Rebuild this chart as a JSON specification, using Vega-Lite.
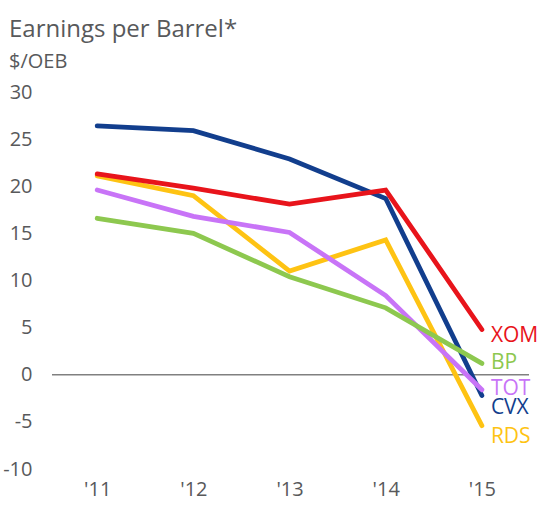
{
  "$schema": "https://vega.github.io/schema/vega-lite/v6.json",
  "width": 477,
  "height": 377,
  "autosize": {"type": "none"},
  "padding": {"left": 52, "top": 92, "right": 31, "bottom": 40},
  "background": "white",
  "config": {"view": {"stroke": null}, "font": "Open Sans"},
  "title": {
    "text": "Earnings per Barrel*",
    "subtitle": "$/OEB",
    "anchor": "start",
    "frame": "group",
    "dx": -43,
    "offset": 10,
    "fontSize": 24,
    "fontWeight": "normal",
    "color": "#58595b",
    "subtitleFontSize": 20,
    "subtitleColor": "#58595b",
    "subtitlePadding": 10
  },
  "data": {
    "values": [
      {"company": "CVX", "year": 2011, "value": 26.4},
      {"company": "CVX", "year": 2012, "value": 25.9},
      {"company": "CVX", "year": 2013, "value": 22.9},
      {"company": "CVX", "year": 2014, "value": 18.7},
      {"company": "CVX", "year": 2015, "value": -2.2},
      {"company": "RDS", "year": 2011, "value": 21.1},
      {"company": "RDS", "year": 2012, "value": 19.0},
      {"company": "RDS", "year": 2013, "value": 11.0},
      {"company": "RDS", "year": 2014, "value": 14.3},
      {"company": "RDS", "year": 2015, "value": -5.4},
      {"company": "TOT", "year": 2011, "value": 19.6},
      {"company": "TOT", "year": 2012, "value": 16.8},
      {"company": "TOT", "year": 2013, "value": 15.1},
      {"company": "TOT", "year": 2014, "value": 8.4},
      {"company": "TOT", "year": 2015, "value": -1.6},
      {"company": "BP", "year": 2011, "value": 16.6},
      {"company": "BP", "year": 2012, "value": 15.0},
      {"company": "BP", "year": 2013, "value": 10.4},
      {"company": "BP", "year": 2014, "value": 7.1},
      {"company": "BP", "year": 2015, "value": 1.2},
      {"company": "XOM", "year": 2011, "value": 21.3},
      {"company": "XOM", "year": 2012, "value": 19.8},
      {"company": "XOM", "year": 2013, "value": 18.1},
      {"company": "XOM", "year": 2014, "value": 19.6},
      {"company": "XOM", "year": 2015, "value": 4.8}
    ]
  },
  "encoding": {
    "x": {
      "field": "year",
      "type": "quantitative",
      "scale": {"domain": [2010.53, 2015.49], "nice": false, "zero": false},
      "axis": {
        "values": [2011, 2012, 2013, 2014, 2015],
        "labelExpr": "\"'\" + substring(toString(datum.value), 2)",
        "domain": false,
        "ticks": false,
        "grid": false,
        "labelFontSize": 20,
        "labelColor": "#58595b",
        "labelPadding": 10,
        "title": null
      }
    },
    "y": {
      "field": "value",
      "type": "quantitative",
      "scale": {"domain": [-10, 30], "nice": false},
      "axis": {
        "values": [-10, -5, 0, 5, 10, 15, 20, 25, 30],
        "labelExpr": "datum.value < 0 ? '-' + abs(datum.value) : '' + datum.value",
        "domain": false,
        "ticks": false,
        "grid": false,
        "labelFontSize": 20,
        "labelColor": "#58595b",
        "labelPadding": 20,
        "title": null
      }
    },
    "color": {
      "field": "company",
      "type": "nominal",
      "scale": {
        "domain": ["XOM", "BP", "TOT", "CVX", "RDS"],
        "range": ["#e8141b", "#8dc84f", "#c874f7", "#123e8d", "#fec313"]
      },
      "legend": null
    }
  },
  "layer": [
    {
      "data": {"values": [{"value": 0}]},
      "mark": {"type": "rule", "color": "#808080", "strokeWidth": 1.5},
      "encoding": {"x": null, "color": null, "y": {"field": "value", "type": "quantitative"}}
    },
    {
      "mark": {"type": "line", "strokeWidth": 4.8, "strokeCap": "round"}
    },
    {
      "transform": [{"filter": "datum.year == 2015 && datum.company == 'XOM'"}],
      "mark": {"type": "text", "align": "left", "baseline": "middle", "dx": 9, "dy": 6, "fontSize": 21},
      "encoding": {"text": {"field": "company"}}
    },
    {
      "transform": [{"filter": "datum.year == 2015 && datum.company == 'BP'"}],
      "mark": {"type": "text", "align": "left", "baseline": "middle", "dx": 9, "dy": 0, "fontSize": 21},
      "encoding": {"text": {"field": "company"}}
    },
    {
      "transform": [{"filter": "datum.year == 2015 && datum.company == 'TOT'"}],
      "mark": {"type": "text", "align": "left", "baseline": "middle", "dx": 9, "dy": -1, "fontSize": 21},
      "encoding": {"text": {"field": "company"}}
    },
    {
      "transform": [{"filter": "datum.year == 2015 && datum.company == 'CVX'"}],
      "mark": {"type": "text", "align": "left", "baseline": "middle", "dx": 9, "dy": 13, "fontSize": 21},
      "encoding": {"text": {"field": "company"}}
    },
    {
      "transform": [{"filter": "datum.year == 2015 && datum.company == 'RDS'"}],
      "mark": {"type": "text", "align": "left", "baseline": "middle", "dx": 9, "dy": 11, "fontSize": 21},
      "encoding": {"text": {"field": "company"}}
    }
  ]
}
